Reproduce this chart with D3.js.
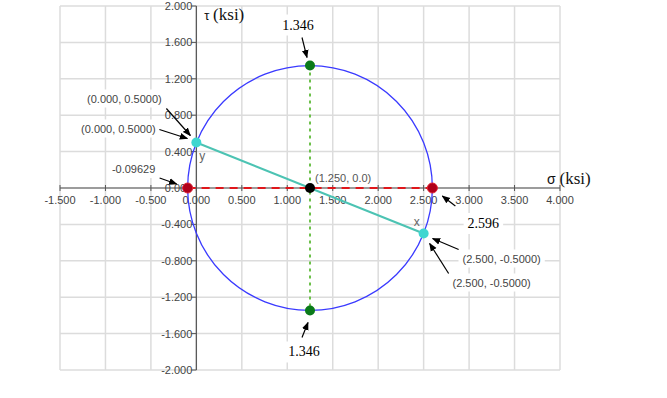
<!DOCTYPE html>
<html>
<head>
<meta charset="utf-8">
<style>
body { margin: 0; background: #fff; }
svg text { font-family: "Liberation Sans", Arial, sans-serif; }
.serif { font-family: "Liberation Serif", "Times New Roman", serif; }
</style>
</head>
<body>
<svg width="667" height="398"></svg>
<script src="https://cdn.jsdelivr.net/npm/d3@7"></script>
<script>
// Mohr's circle values (ksi)
var xTicks = [-1.5, -1.0, -0.5, 0.0, 0.5, 1.0, 1.5, 2.0, 2.5, 3.0, 3.5, 4.0];
var yTicks = [-2.0, -1.6, -1.2, -0.8, -0.4, 0.0, 0.4, 0.8, 1.2, 1.6, 2.0];
var center = [1.25, 0.0];
var radius = 1.346;
var principal = [-0.09629, 2.596];       // sigma1/sigma2 on the axis
var maxShear = [1.346, -1.346];          // tau max at sigma = center
var stressX = [2.5, -0.5];
var stressY = [0.0, 0.5];

var svg = d3.select("svg");
var x = d3.scaleLinear().domain([-1.5, 4.0]).range([60, 560]);
var y = d3.scaleLinear().domain([-2.0, 2.0]).range([370, 6]);
var fmt = d3.formatLocale({decimal: ".", thousands: ",", grouping: [3], currency: ["", ""], minus: "-"}).format(".3f");

// arrow head
svg.append("defs").append("marker")
    .attr("id", "arr")
    .attr("viewBox", "0 0 10 10")
    .attr("refX", 9).attr("refY", 5)
    .attr("markerWidth", 7).attr("markerHeight", 7)
    .attr("orient", "auto")
  .append("path")
    .attr("d", "M0,1 L10,5 L0,9 Z")
    .attr("fill", "#000");

// grid
var grid = svg.append("g");
grid.selectAll(".gx").data(xTicks).enter().append("line")
    .attr("x1", d => x(d)).attr("x2", d => x(d))
    .attr("y1", y(2)).attr("y2", y(-2))
    .attr("stroke", "#dcdcdc").attr("stroke-width", 1.5);
grid.selectAll(".gy").data(yTicks).enter().append("line")
    .attr("x1", x(-1.5)).attr("x2", x(4))
    .attr("y1", d => y(d)).attr("y2", d => y(d))
    .attr("stroke", "#dcdcdc").attr("stroke-width", 1.5);

// annotations: target point + pixel offsets for text and arrow
var notes = [
  {t: fmt(maxShear[0]), px: center[0], py: maxShear[0], tx: -12, ty: -36, ax: [-8, -28], bx: [-3, -8], serif: true},
  {t: fmt(-maxShear[1]), px: center[0], py: maxShear[1], tx: -6, ty: 46, ax: [-8, 27], bx: [-2, 12], serif: true},
  {t: "(0.000, 0.5000)", px: stressY[0], py: stressY[1], tx: -72, ty: -40, ax: [-30, -34], bx: [-6, -7], serif: false},
  {t: "(0.000, 0.5000)", px: stressY[0], py: stressY[1], tx: -78, ty: -10, ax: [-37, -13], bx: [-9, -4], serif: false},
  {t: "-0.09629", px: principal[0], py: 0, tx: -54, ty: -15, ax: [-28, -10], bx: [-11, -4], serif: false},
  {t: fmt(principal[1]), px: principal[1], py: 0, tx: 51, ty: 40, ax: [23, 18], bx: [10, 8], serif: true},
  {t: "(2.500, -0.5000)", px: stressX[0], py: stressX[1], tx: 78, ty: 29, ax: [35, 16], bx: [9, 5], serif: false},
  {t: "(2.500, -0.5000)", px: stressX[0], py: stressX[1], tx: 68, ty: 53, ax: [25, 40], bx: [6, 10], serif: false}
];

var boxes = svg.append("g");

// axes
var ax = svg.append("g");
ax.append("line").attr("x1", x(-1.5)).attr("x2", x(4)).attr("y1", y(0)).attr("y2", y(0))
    .attr("stroke", "#555").attr("stroke-width", 1.2);
ax.append("line").attr("x1", x(0)).attr("x2", x(0)).attr("y1", y(2)).attr("y2", y(-2))
    .attr("stroke", "#555").attr("stroke-width", 1.2);
ax.selectAll(".tx").data(xTicks).enter().append("line")
    .attr("x1", d => x(d)).attr("x2", d => x(d))
    .attr("y1", y(0) - 3).attr("y2", y(0) + 3)
    .attr("stroke", "#555");
ax.selectAll(".ty").data(yTicks).enter().append("line")
    .attr("x1", x(0) - 5).attr("x2", x(0))
    .attr("y1", d => y(d)).attr("y2", d => y(d))
    .attr("stroke", "#555");
ax.selectAll(".lx").data(xTicks).enter().append("text")
    .attr("x", d => x(d)).attr("y", y(0) + 16)
    .attr("text-anchor", "middle").attr("font-size", 11).attr("fill", "#444")
    .text(d => fmt(d));
ax.selectAll(".ly").data(yTicks).enter().append("text")
    .attr("x", x(0) - 4).attr("y", d => y(d) + 4)
    .attr("text-anchor", "end").attr("font-size", 11).attr("fill", "#444")
    .text(d => fmt(d));

// axis titles
var tt = ax.append("text").attr("x", x(0) + 8).attr("y", y(2) + 14).attr("fill", "#111");
tt.append("tspan").attr("font-size", 13).text("τ ");
tt.append("tspan").attr("class", "serif").attr("font-size", 17).text("(ksi)");
var st = ax.append("text").attr("x", x(4) - 13).attr("y", y(0) - 4).attr("fill", "#111");
st.append("tspan").attr("font-size", 14).text("σ ");
st.append("tspan").attr("class", "serif").attr("font-size", 17).text("(ksi)");

// circle
svg.append("circle")
    .attr("cx", x(center[0])).attr("cy", y(center[1]))
    .attr("r", x(center[0] + radius) - x(center[0]))
    .attr("fill", "none").attr("stroke", "#3a3aff").attr("stroke-width", 1.3);

// principal stress dashed line
svg.append("line")
    .attr("x1", x(principal[0])).attr("x2", x(principal[1]))
    .attr("y1", y(0)).attr("y2", y(0))
    .attr("stroke", "#e0161b").attr("stroke-width", 2).attr("stroke-dasharray", "8,6");

// max shear dotted line
svg.append("line")
    .attr("x1", x(center[0])).attr("x2", x(center[0]))
    .attr("y1", y(maxShear[0])).attr("y2", y(maxShear[1]))
    .attr("stroke", "#6cc04a").attr("stroke-width", 2).attr("stroke-dasharray", "3,4");

// stress state line
svg.append("line")
    .attr("x1", x(stressY[0])).attr("y1", y(stressY[1]))
    .attr("x2", x(stressX[0])).attr("y2", y(stressX[1]))
    .attr("stroke", "#4cc3b3").attr("stroke-width", 2);

// points
svg.selectAll(".pp").data(principal).enter().append("circle")
    .attr("cx", d => x(d)).attr("cy", y(0)).attr("r", 5)
    .attr("fill", "#b0001a").attr("stroke", "#e02030").attr("stroke-width", 1);
svg.selectAll(".sp").data(maxShear).enter().append("circle")
    .attr("cx", x(center[0])).attr("cy", d => y(d)).attr("r", 5)
    .attr("fill", "#0a7a1a");
svg.append("circle").attr("cx", x(center[0])).attr("cy", y(center[1])).attr("r", 5).attr("fill", "#000");
svg.selectAll(".cp").data([stressY, stressX]).enter().append("circle")
    .attr("cx", d => x(d[0])).attr("cy", d => y(d[1])).attr("r", 5)
    .attr("fill", "#3fd6d0");

// point labels
svg.append("text").attr("x", x(stressY[0]) + 3).attr("y", y(stressY[1]) + 17)
    .attr("font-size", 12).attr("fill", "#666").text("y");
svg.append("text").attr("x", x(stressX[0]) - 10).attr("y", y(stressX[1]) - 8)
    .attr("font-size", 12).attr("fill", "#666").text("x");
svg.append("text").attr("x", x(center[0]) + 5).attr("y", y(center[1]) - 6)
    .attr("font-size", 11).attr("fill", "#555")
    .text("(" + fmt(center[0]) + ", " + center[1].toFixed(1) + ")");

// annotation texts and arrows
notes.forEach(function(n) {
  var px = x(n.px), py = y(n.py);
  var t = svg.append("text")
      .attr("x", px + n.tx).attr("y", py + n.ty)
      .attr("text-anchor", "middle")
      .attr("font-size", n.serif ? 14 : 11)
      .attr("fill", n.serif ? "#000" : "#444")
      .text(n.t);
  if (n.serif) t.attr("class", "serif");
  var b = t.node().getBBox();
  boxes.append("rect")
      .attr("x", b.x - 4).attr("y", b.y - 3)
      .attr("width", b.width + 8).attr("height", b.height + 6)
      .attr("fill", "#fff");
  svg.append("line")
      .attr("x1", px + n.ax[0]).attr("y1", py + n.ax[1])
      .attr("x2", px + n.bx[0]).attr("y2", py + n.bx[1])
      .attr("stroke", "#000").attr("stroke-width", 1.2)
      .attr("marker-end", "url(#arr)");
});
</script>
</body>
</html>
